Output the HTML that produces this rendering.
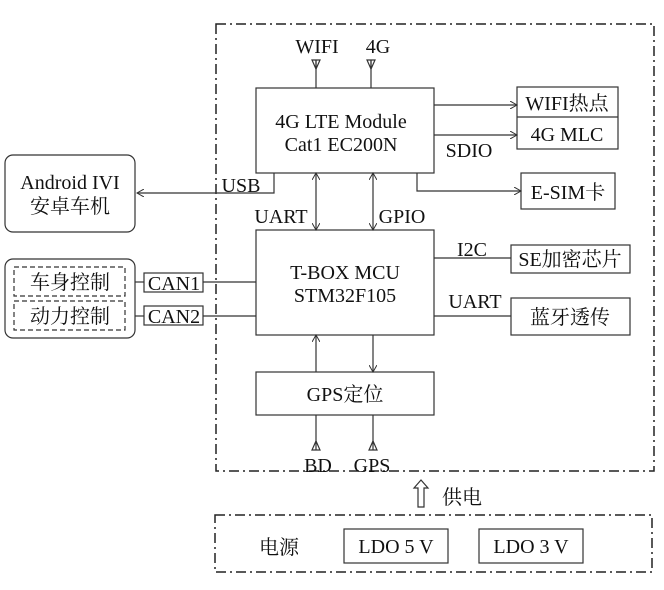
<!DOCTYPE html>
<html><head><meta charset="utf-8"><style>
body{margin:0;background:#fff}
svg text{font-family:"Liberation Serif","Noto Serif CJK SC",serif;fill:#111}
</style></head><body>
<svg width="664" height="585" viewBox="0 0 664 585" xmlns="http://www.w3.org/2000/svg">
<defs>
<marker id="a" markerWidth="8" markerHeight="8" refX="7" refY="4" orient="auto-start-reverse" markerUnits="userSpaceOnUse">
<path d="M0,0 L7,4 L0,8" fill="none" stroke="#333" stroke-width="1"/></marker>
</defs>
<g fill="none" stroke="#222" stroke-width="1.5">
<rect x="216" y="24" width="438" height="447" stroke-dasharray="10,4,2,4"/>
<rect x="215" y="515" width="437" height="57" stroke-dasharray="10,4,2,4"/>
</g>
<g fill="none" stroke="#333" stroke-width="1.2">
<rect x="256" y="88" width="178" height="85"/>
<rect x="517" y="87" width="101" height="62"/><line x1="517" y1="117" x2="618" y2="117"/>
<rect x="521" y="173" width="94" height="36"/>
<rect x="256" y="230" width="178" height="105"/>
<rect x="511" y="245" width="119" height="28"/>
<rect x="511" y="298" width="119" height="37"/>
<rect x="256" y="372" width="178" height="43"/>
<rect x="5" y="155" width="130" height="77" rx="8"/>
<rect x="5" y="259" width="130" height="79" rx="8"/>
<rect x="14" y="267" width="111" height="29" stroke-dasharray="5,3"/>
<rect x="14" y="301" width="111" height="29" stroke-dasharray="5,3"/>
<rect x="144" y="273" width="59" height="19"/>
<rect x="144" y="306" width="59" height="19"/>
<rect x="344" y="529" width="104" height="34"/>
<rect x="479" y="529" width="104" height="34"/>
<line x1="135" y1="282" x2="144" y2="282"/><line x1="203" y1="282" x2="256" y2="282"/>
<line x1="135" y1="316" x2="144" y2="316"/><line x1="203" y1="316" x2="256" y2="316"/>
<line x1="434" y1="105" x2="517" y2="105" marker-end="url(#a)"/>
<line x1="434" y1="135" x2="517" y2="135" marker-end="url(#a)"/>
<polyline points="417,173 417,191 521,191" marker-end="url(#a)"/>
<polyline points="274,173 274,193 137,193" marker-end="url(#a)"/>
<line x1="316" y1="173" x2="316" y2="230" marker-start="url(#a)" marker-end="url(#a)"/>
<line x1="373" y1="173" x2="373" y2="230" marker-start="url(#a)" marker-end="url(#a)"/>
<line x1="434" y1="258" x2="511" y2="258"/>
<line x1="434" y1="316" x2="511" y2="316"/>
<line x1="316" y1="372" x2="316" y2="335" marker-end="url(#a)"/>
<line x1="373" y1="335" x2="373" y2="372" marker-end="url(#a)"/>
<line x1="316" y1="60" x2="316" y2="88"/><path d="M312,60 L320,60 L316,69Z M316,60 L316,69"/>
<line x1="371" y1="60" x2="371" y2="88"/><path d="M367,60 L375,60 L371,69Z M371,60 L371,69"/>
<line x1="316" y1="415" x2="316" y2="450"/><path d="M312,450 L320,450 L316,441Z"/>
<line x1="373" y1="415" x2="373" y2="450"/><path d="M369,450 L377,450 L373,441Z"/>
<path d="M421,480 L428,488 L424,488 L424,507 L418,507 L418,488 L414,488Z"/>
</g>
<g font-size="20" text-anchor="middle">
<text x="317" y="53">WIFI</text><text x="378" y="53">4G</text>
<text x="341" y="128">4G LTE Module</text><text x="341" y="151">Cat1 EC200N</text>
<text x="567" y="110">WIFI热点</text><text x="567" y="141">4G MLC</text>
<text x="469" y="157">SDIO</text>
<text x="568" y="199">E-SIM卡</text>
<text x="241" y="192">USB</text>
<text x="281" y="223">UART</text><text x="402" y="223">GPIO</text>
<text x="345" y="279">T-BOX MCU</text><text x="345" y="302">STM32F105</text>
<text x="472" y="256">I2C</text><text x="570" y="266">SE加密芯片</text>
<text x="475" y="308">UART</text><text x="570" y="324">蓝牙透传</text>
<text x="345" y="401">GPS定位</text>
<text x="318" y="472">BD</text><text x="372" y="472">GPS</text>
<text x="70" y="189">Android IVI</text><text x="70" y="213">安卓车机</text>
<text x="70" y="289">车身控制</text><text x="70" y="323">动力控制</text>
<text x="174" y="290">CAN1</text><text x="174" y="323">CAN2</text>
<text x="462" y="504">供电</text>
<text x="279" y="554">电源</text>
<text x="396" y="553">LDO 5 V</text><text x="531" y="553">LDO 3 V</text>
</g>
</svg>
</body></html>
